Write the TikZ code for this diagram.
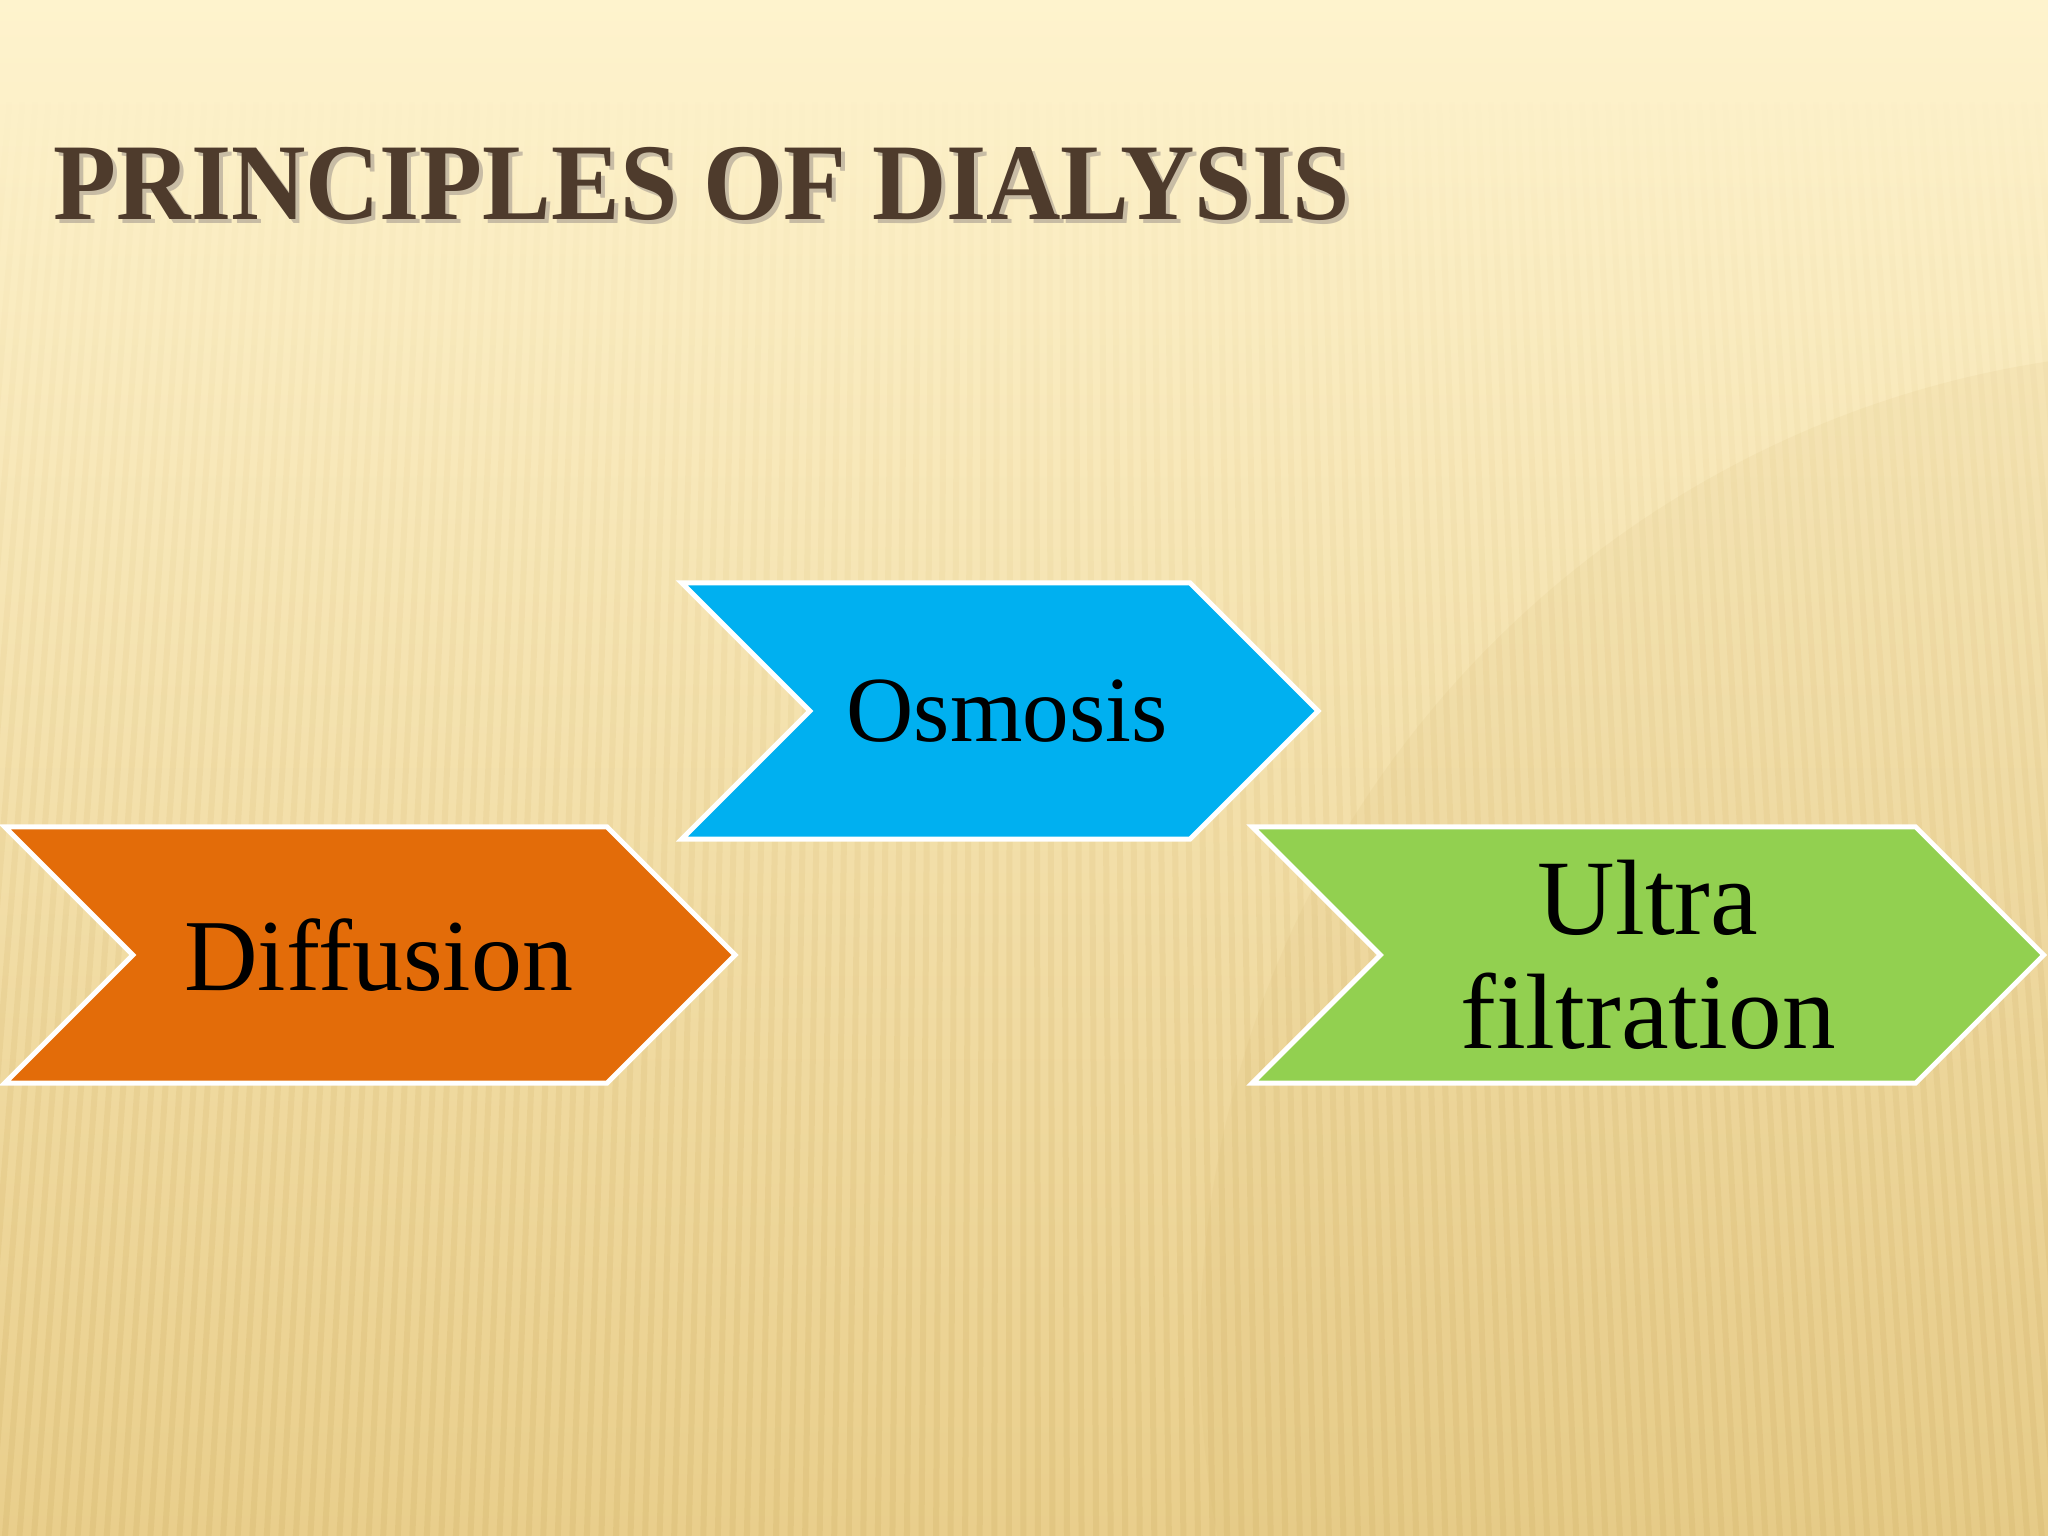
\documentclass[tikz,border=0pt]{standalone}
\usepackage{fontspec}
\setmainfont{Liberation Serif}
\newfontfamily\titlefont[FakeStretch=0.945]{Liberation Serif}
\usetikzlibrary{shapes.symbols,fadings}
\definecolor{bgtop}{HTML}{FEF3CD}
\definecolor{bgmid}{HTML}{F8E5AE}
\definecolor{bgbot}{HTML}{E9CE8B}
\definecolor{stripetan}{HTML}{D4B46C}
\definecolor{titlebrown}{HTML}{4E3B2C}
\definecolor{orangefill}{HTML}{E36C09}
\definecolor{bluefill}{HTML}{00B0F0}
\definecolor{greenfill}{HTML}{92D050}
\tikzfading[name=stripefade, top color=transparent!100, middle color=transparent!50, bottom color=transparent!25]
\begin{document}
\begin{tikzpicture}[x=0.01cm, y=0.01cm,
  chevron/.style={shape=signal, signal from=west, signal to=east, signal pointer angle=90,
    draw=white, line width=1.4pt, minimum height=25.6mm, inner sep=0pt,
    font=\fontsize{29}{32}\selectfont, align=center},
  titletext/.style={anchor=base west, inner sep=0pt, font=\titlefont\bfseries\fontsize{31}{34}\selectfont}]
\useasboundingbox (0,0) rectangle (2048,1536);
\shade[top color=bgtop, middle color=bgmid, bottom color=bgbot] (0,0) rectangle (2048,1536);
\draw[stripetan, opacity=0.4, line width=0.6mm, path fading=stripefade]
  foreach \i in {0,...,170} {(\i*13-80, 1440) -- ({1024+(\i*13-80-1024)*1.12}, 0)};
\fill[stripetan, opacity=0.1] (2200,186) circle (1000);
\node[titletext, text=titlebrown!55, opacity=0.55] (titleshadow) at (57,1312) {PRINCIPLES OF DIALYSIS};
\node[titletext, text=titlebrown] (title) at (53,1316) {PRINCIPLES OF DIALYSIS};
\node[chevron, fill=orangefill, minimum width=73mm] (diffusion) at (370,581) {\hspace*{5pt}Diffusion};
\node[chevron, fill=bluefill, minimum width=63.6mm, font=\fontsize{26.5}{30}\selectfont] (osmosis) at (1000,825) {\hspace*{4pt}Osmosis};
\node[chevron, fill=greenfill, minimum width=79.1mm, font=\fontsize{30.5}{32.4}\selectfont] (ultrafiltration) at (1648,581) {Ultra\\filtration};
\end{tikzpicture}
\end{document}
